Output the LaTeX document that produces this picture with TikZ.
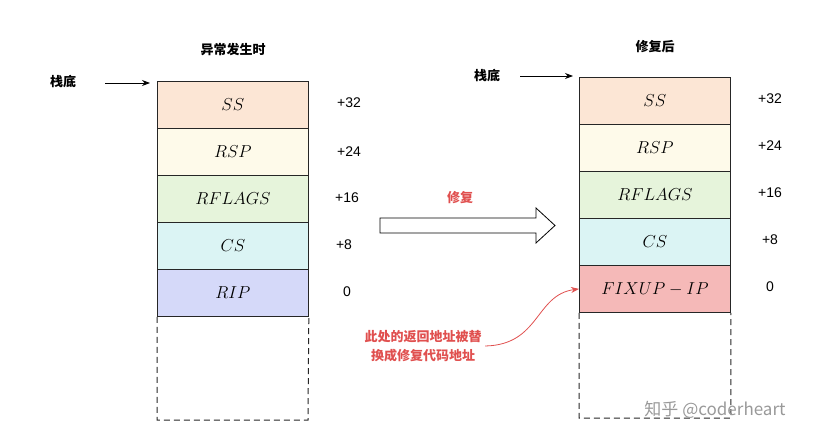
\documentclass[tikz,border=0pt]{standalone}
\usepackage{fontspec}
\setmainfont{Liberation Sans}
\newfontfamily\cjk{Noto Sans CJK SC}
\usetikzlibrary{arrows.meta}
\definecolor{cSS}{HTML}{FCE6D5}
\definecolor{cRSP}{HTML}{FEFAEA}
\definecolor{cRF}{HTML}{E6F4DB}
\definecolor{cCS}{HTML}{DBF4F4}
\definecolor{cRIP}{HTML}{D5D9F9}
\definecolor{cFIX}{HTML}{F5B9B8}
\definecolor{myred}{HTML}{E0504F}
\begin{document}
\begin{tikzpicture}[x=1pt,y=-1pt,
 cell/.style={draw=black!85,line width=0.8pt,minimum width=151pt,minimum height=47pt,anchor=north west,inner sep=0pt,font=\fontsize{17}{20}\selectfont},
 off/.style={font=\fontsize{14}{16}\selectfont},
 lbl/.style={font=\cjk\fontsize{13}{16}\selectfont\bfseries},
 dsh/.style={draw=black!85,line width=1pt,dash pattern=on 6pt off 4pt},
 ptr/.style={-{Stealth[length=8pt,width=6pt]},line width=0.9pt}]
\useasboundingbox (0,0) rectangle (822,446);
% left stack
\node[cell,fill=cSS] (l1) at (157,81) {$SS$};
\node[cell,fill=cRSP] (l2) at (157,128) {$RSP$};
\node[cell,fill=cRF] (l3) at (157,175) {$RFLAGS$};
\node[cell,fill=cCS] (l4) at (157,222) {$CS$};
\node[cell,fill=cRIP] (l5) at (157,269) {$RIP$};
\draw[dsh] (l5.south west) -- (157,420) -- (308,420) -- (l5.south east);
\node[lbl] (lt) at (233,50) {异常发生时};
\node[lbl] (lb) at (63,82) {栈底};
\coordinate (la) at (105,83);
\draw[ptr] (la) -- (150,83);
\node[off] (o1) at (349,103) {+32};
\node[off] (o2) at (349,152) {+24};
\node[off] (o3) at (347,198) {+16};
\node[off] (o4) at (344,245) {+8};
\node[off] (o5) at (347,292) {0};
% right stack
\node[cell,fill=cSS] (r1) at (579,77) {$SS$};
\node[cell,fill=cRSP] (r2) at (579,124) {$RSP$};
\node[cell,fill=cRF] (r3) at (579,171) {$RFLAGS$};
\node[cell,fill=cCS] (r4) at (579,218) {$CS$};
\node[cell,fill=cFIX] (r5) at (579,265) {$FIXUP-IP$};
\draw[dsh] (r5.south west) -- (579,418) -- (731,418) -- (r5.south east);
\node[lbl] (rt) at (655,47) {修复后};
\node[lbl] (rb) at (487,76) {栈底};
\coordinate (ra) at (520,76);
\draw[ptr] (ra) -- (573,76);
\node[off] (p1) at (770,99) {+32};
\node[off] (p2) at (770,146) {+24};
\node[off] (p3) at (770,193) {+16};
\node[off] (p4) at (770,240) {+8};
\node[off] (p5) at (770,287) {0};
% big arrow
\draw[line width=0.8pt,fill=white] (380,218) -- (536,218) -- (536,208) -- (555,225.5) -- (536,243) -- (536,233) -- (380,233) -- cycle;
\node[lbl,text=myred] (fx) at (460,198) {修复};
% red annotation
\node[lbl,text=myred,align=center] (note) at (423,346) {此处的返回地址被替\\[3pt]换成修复代码地址};
\draw[myred,line width=0.8pt,-{Stealth[length=8pt,width=6pt]}] (note.east) .. controls (540,345) and (535,295) .. (r5.west);
\node[font=\cjk\fontsize{17}{20}\selectfont,text=black!40] (wm) at (715,410) {知乎 @coderheart};
\end{tikzpicture}
\end{document}
